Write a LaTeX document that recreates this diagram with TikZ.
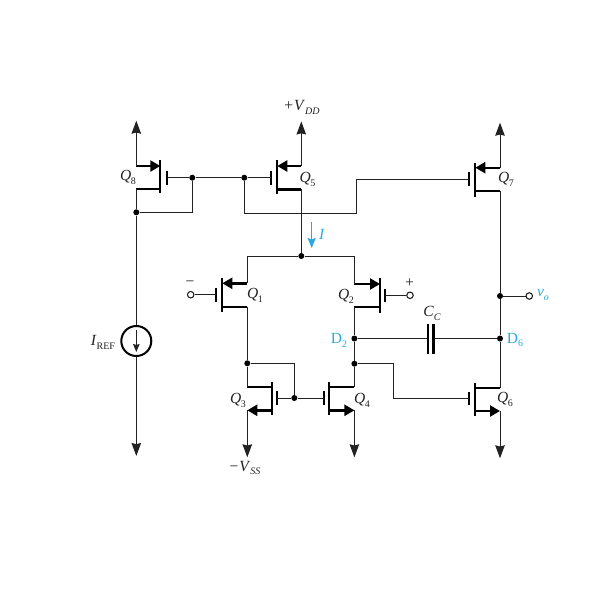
\documentclass[tikz,border=0pt]{standalone}
\usepackage{fontspec}
\setmainfont{Liberation Serif}
\usetikzlibrary{arrows.meta}
\definecolor{ink}{HTML}{222222}
\definecolor{sky}{HTML}{29A9DF}
\newcommand\lab[2]{\textit{#1}\kern-0.3pt\raisebox{-0.25em}{\fontsize{10}{11}\selectfont #2}}
\newcommand\dlab[2]{#1\raisebox{-0.25em}{\fontsize{10}{11}\selectfont #2}}
\newcommand\isub[2]{\textit{#1}\raisebox{-0.25em}{\fontsize{10}{11}\selectfont\textit{#2}}}
\tikzset{
  wire/.style={draw=ink,line width=1pt},
  stub/.style={draw=black,line width=2.4pt},
  plate/.style={draw=black,line width=2.2pt},
  railup/.style={wire,-{Stealth[length=13pt,width=9.5pt,inset=1.2pt]}},
  headin/.style={stub,-{Triangle[length=10pt,width=11pt]}},
  dot/.style={circle,fill=black,inner sep=0pt,minimum size=6pt},
  term/.style={circle,draw=ink,fill=white,line width=1.1pt,inner sep=0pt,minimum size=6.5pt},
  txt/.style={inner sep=0pt,text=ink,font=\fontsize{15.5}{17}\selectfont},
  blue/.style={inner sep=0pt,text=sky,font=\fontsize{15.5}{17}\selectfont},
  src/.style={circle,draw=black,line width=2pt,minimum size=30pt,inner sep=0pt}
}
% name, gate bar x, channel x, rail x, gate y, source y, drain y, channel top, channel bottom
\newcommand\mosfet[9]{%
  \coordinate (#1-r) at (#4,#5);
  \coordinate (#1-g) at (#2,#5);
  \coordinate (#1-s) at (#4,#6);
  \coordinate (#1-d) at (#4,#7);
  \coordinate (#1-cs) at (#3,#6);
  \coordinate (#1-cd) at (#3,#7);
  \coordinate (#1-ct) at (#3,#8);
  \coordinate (#1-cb) at (#3,#9);
  \coordinate (#1-gt) at (#2,#5-6.8);
  \coordinate (#1-gb) at (#2,#5+6.8);
  \draw[plate] (#1-ct) -- (#1-cb);
  \draw[plate] (#1-gt) -- (#1-gb);
  \draw[stub] (#1-d) -- (#1-cd);
}
\begin{document}
\begin{tikzpicture}[x=1pt,y=-1pt]
\useasboundingbox (0,0) rectangle (609,613);
% transistors
\mosfet{Qe}{166.7}{160.3}{136.3}{177.7}{166}{188.7}{160}{193}
\mosfet{Qf}{271}{277.3}{301.3}{177.7}{166}{189.3}{160}{193.5}
\mosfet{Qg}{469.3}{475.3}{500}{179}{167.7}{191}{162.7}{196.7}
\mosfet{Qa}{216}{222.3}{247.3}{294.7}{283.3}{306.7}{277.7}{312.3}
\mosfet{Qb}{385.3}{380}{354.4}{295.3}{284}{306.7}{278}{312.5}
\mosfet{Qc}{277.3}{272.3}{247.3}{398}{410.3}{386.7}{382.3}{415}
\mosfet{Qd}{323.7}{329.3}{354.4}{398}{410.3}{386.7}{382.3}{415}
\mosfet{Qh}{468.7}{475}{500}{398.5}{411}{387.7}{383.3}{416}
% source arrows
\draw[headin] (Qe-s) -- (Qe-cs);
\draw[headin] (Qf-s) -- (Qf-cs);
\draw[headin] (Qg-s) -- (Qg-cs);
\draw[headin] (Qa-s) -- (Qa-cs);
\draw[headin] (Qb-s) -- (Qb-cs);
\draw[headin] (Qc-cs) -- (Qc-s);
\draw[headin] (Qd-cs) -- (Qd-s);
\draw[headin] (Qh-cs) -- (Qh-s);
% junctions and terminals
\node[dot] (jA) at (136.3,212.3) {};
\node[dot] (jB) at (192.3,177.7) {};
\node[dot] (jC) at (244.3,177.7) {};
\node[dot] (jT) at (301.3,256) {};
\node[dot] (jL) at (247.3,363.3) {};
\node[dot] (jG) at (294.3,398) {};
\node[dot] (jD) at (354.4,338.5) {};
\node[dot] (jR) at (354.4,363.7) {};
\node[dot] (jO) at (500,296) {};
\node[dot] (jS) at (500,338.5) {};
\node[term] (tM) at (190.7,294.7) {};
\node[term] (tP) at (410,295.3) {};
\node[term] (tO) at (529.3,296) {};
\node[src] (iref) at (136.3,341) {};
% free ends
\coordinate (up8) at (136.3,120.7);
\coordinate (up5) at (301.3,121.5);
\coordinate (up7) at (500,122.7);
\coordinate (dn3) at (247.3,457.3);
\coordinate (dn4) at (354.4,457.3);
\coordinate (dn6) at (500,458.3);
\coordinate (dnI) at (136.3,456);
\coordinate (capL) at (428.3,338.5);
\coordinate (capR) at (433.5,338.5);
\coordinate (capLt) at (428.3,324.3);
\coordinate (capLb) at (428.3,354);
\coordinate (capRt) at (433.5,324.3);
\coordinate (capRb) at (433.5,354);
\coordinate (iA) at (136.3,330);
\coordinate (iB) at (136.3,352);
\coordinate (cur1) at (311.7,221.5);
\coordinate (cur2) at (311.7,248);
% rails
\draw[railup] (Qe-s) -- (up8);
\draw[railup] (Qf-s) -- (up5);
\draw[railup] (Qg-s) -- (up7);
\draw[railup] (Qc-s) -- (dn3);
\draw[railup] (Qd-s) -- (dn4);
\draw[railup] (Qh-s) -- (dn6);
\draw[railup] (iref) -- (dnI);
% wires
\draw[wire] (Qe-d) -- (jA);
\draw[wire] (jA) -- (iref);
\draw[wire] (jA) -| (jB);
\draw[wire] (Qe-g) -- (jB) -- (jC) -- (Qf-g);
\draw[wire] (jC) |- (356,213) |- (Qg-g);
\draw[wire] (Qf-d) -- (jT);
\draw[wire] (jT) -| (Qa-s);
\draw[wire] (jT) -| (Qb-s);
\draw[wire] (tM) -- (Qa-g);
\draw[wire] (tP) -- (Qb-g);
\draw[wire] (Qa-d) -- (jL) -- (Qc-d);
\draw[wire] (jL) -| (jG);
\draw[wire] (Qc-g) -- (jG) -- (Qd-g);
\draw[wire] (Qb-d) -- (jD) -- (jR) -- (Qd-d);
\draw[wire] (jR) -| (393.3,398.5) -- (Qh-g);
\draw[wire] (Qg-d) -- (jO) -- (jS) -- (Qh-d);
\draw[wire] (jO) -- (tO);
\draw[wire] (jD) -- (capL);
\draw[wire] (capR) -- (jS);
\draw[plate] (capLt) -- (capLb);
\draw[plate] (capRt) -- (capRb);
\draw[wire,-{Stealth[length=8pt,width=6.5pt,inset=1pt]}] (iA) -- (iB);
\draw[draw=sky,line width=1.2pt,-{Stealth[length=10pt,width=8pt,inset=1.5pt]}] (cur1) -- (cur2);
% labels
\node[txt] (lQ8) at (128,177) {\lab{Q}{8}};
\node[txt] (lQ5) at (307.5,179) {\lab{Q}{5}};
\node[txt] (lQ7) at (506,179) {\lab{Q}{7}};
\node[txt] (lQ1) at (255,295.7) {\lab{Q}{1}};
\node[txt] (lQ2) at (346,296) {\lab{Q}{2}};
\node[txt] (lQ3) at (238,400) {\lab{Q}{3}};
\node[txt] (lQ4) at (362,400) {\lab{Q}{4}};
\node[txt] (lQ6) at (505,399) {\lab{Q}{6}};
\node[txt] (lVdd) at (302,107) {+\kern1pt\isub{V}{DD}};
\node[txt] (lVss) at (245,468) {\textminus\kern1pt\isub{V}{SS}};
\node[txt] (lCc) at (432,313) {\isub{C}{C}};
\node[txt] (lRef) at (103,342) {\textit{I}\raisebox{-0.25em}{\fontsize{10}{11}\selectfont REF}};
\node[txt] (lM) at (190,284) {\textminus};
\node[txt] (lP) at (409.5,283) {+};
\node[blue] (lD2) at (339,340) {\dlab{D}{2}};
\node[blue] (lD6) at (515,340) {\dlab{D}{6}};
\node[blue] (lI) at (322,234) {\textit{I}};
\node[blue] (lVo) at (543,295) {\isub{v}{o}};
\end{tikzpicture}
\end{document}
